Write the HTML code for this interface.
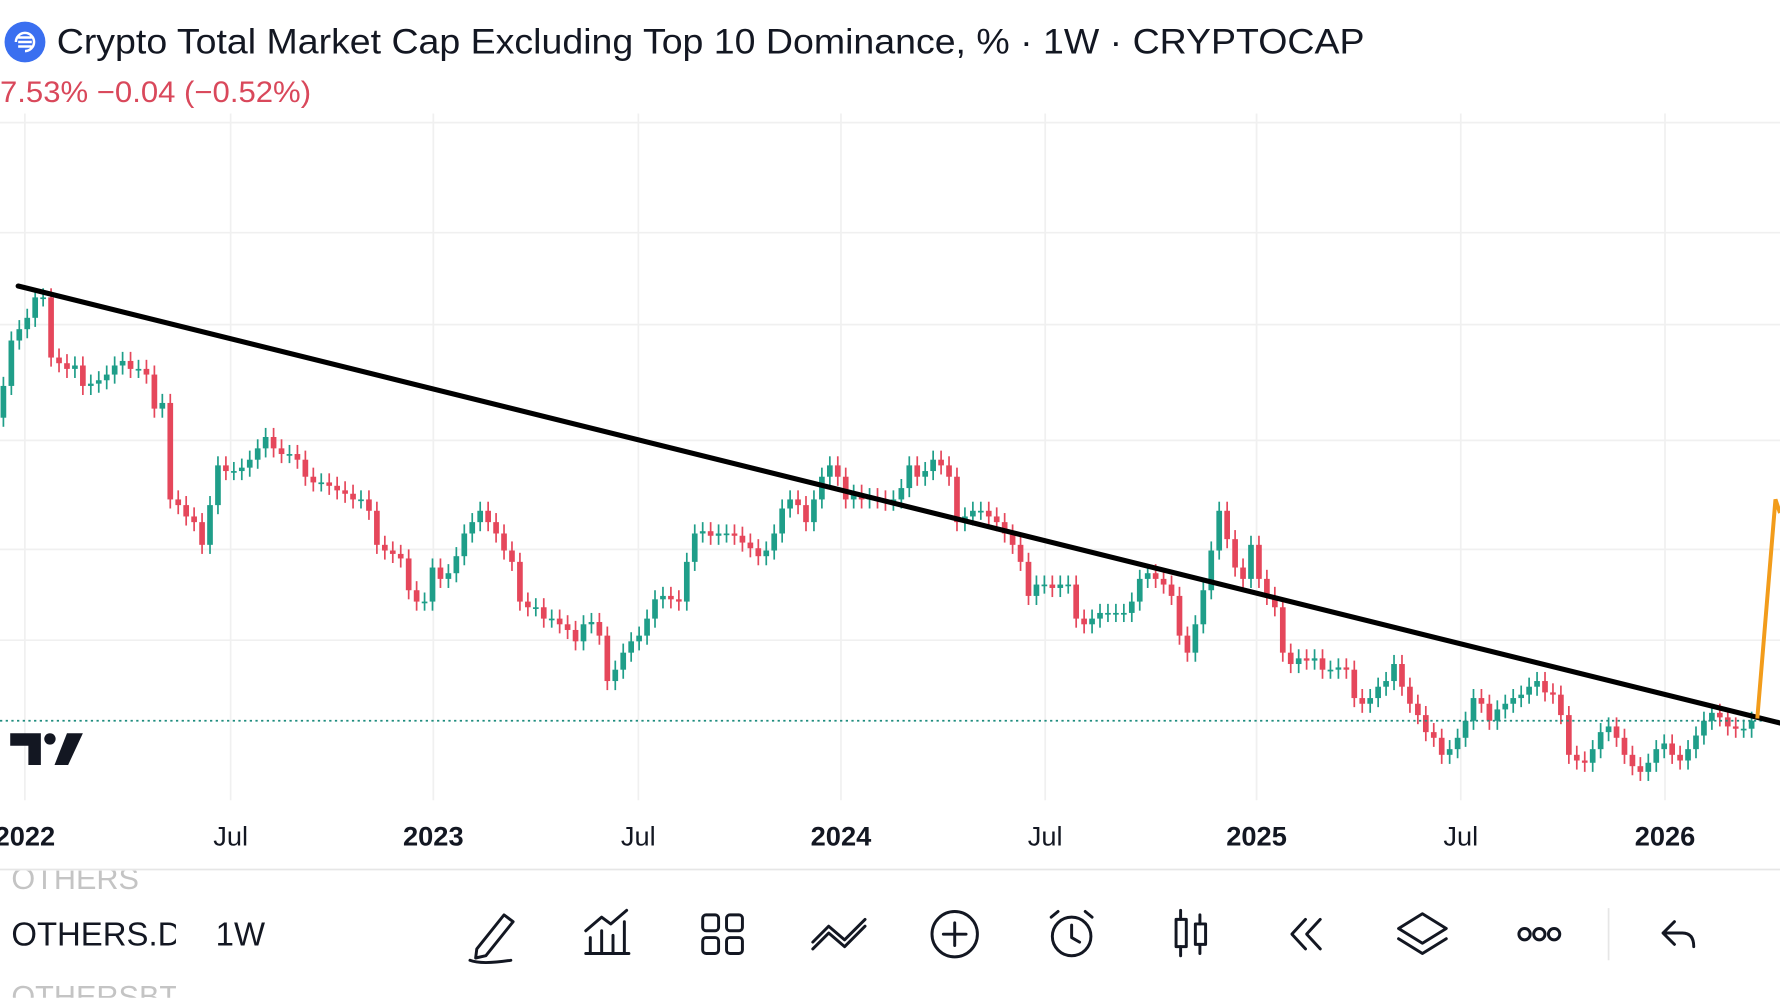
<!DOCTYPE html>
<html><head><meta charset="utf-8">
<style>
html,body{margin:0;padding:0;background:#fff;width:1780px;height:1000px;overflow:hidden}
svg{display:block}
text{font-family:"Liberation Sans",sans-serif}
</style></head>
<body>
<svg id="chart" width="1780" height="1000" viewBox="0 0 1568 881" preserveAspectRatio="none" xmlns="http://www.w3.org/2000/svg">
  <defs>
    <clipPath id="tbclip"><rect x="0" y="767" width="1568" height="112"/></clipPath>
    <clipPath id="symclip"><rect x="0" y="767" width="155" height="112"/></clipPath>
  </defs>
  <rect x="0" y="0" width="1568" height="881" fill="#ffffff"/>
  <g id="grid"></g>
  <g id="candles"></g>
  <line x1="0" y1="635" x2="1568" y2="635" stroke="#1e8c7e" stroke-width="1.5" stroke-dasharray="2,3"/>
  <line x1="16" y1="252" x2="1568" y2="637" stroke="#000" stroke-width="4.5" stroke-linecap="round"/>
  <polyline points="1548,633 1564,440 1568,452" fill="none" stroke="#f29c1b" stroke-width="3.5"/>
  <g>
    <path d="M9,646 H36 V674 H25 V657 H9 Z" fill="#131722"/>
    <circle cx="44" cy="651" r="5" fill="#131722"/>
    <path d="M59,646 H73 L60,674 H48 Z" fill="#131722"/>
  </g>
  <g>
    <circle cx="22" cy="37" r="18" fill="#3a6ff0"/>
    <path d="M14,37 a8,8 0 1,1 8,8 M16,33 h12 M16,37 h12 M16,41 h12" stroke="#fff" stroke-width="2.2" fill="none"/>
    <text x="50" y="47" font-size="31" fill="#131722" textLength="1152" lengthAdjust="spacingAndGlyphs">Crypto Total Market Cap Excluding Top 10 Dominance, % · 1W · CRYPTOCAP</text>
    <text x="0" y="90" font-size="26" fill="#d9485b" textLength="274" lengthAdjust="spacingAndGlyphs">7.53%  −0.04 (−0.52%)</text>
  </g>
  <g id="xaxis"></g>
  <line x1="0" y1="766" x2="1568" y2="766" stroke="#e6e6e6" stroke-width="1.5"/>
  <g>
    <g clip-path="url(#symclip)">
      <text x="10" y="783" font-size="27" fill="#c4c4c4">OTHERS</text>
      <text x="10" y="833" font-size="29" fill="#131722">OTHERS.D</text>
      <text x="10" y="887" font-size="27" fill="#c4c4c4">OTHERSBTC</text>
    </g>
    <text x="190" y="833" font-size="29" fill="#131722">1W</text>
    <g fill="none" stroke="#131722" stroke-width="2.6" stroke-linecap="round" stroke-linejoin="round">
      <g><path d="M420,836 L444,806 L452,812 L428,842 L419,844 Z M414,846 q10,4 36,0"/></g>
      <g><path d="M516,840 H554 M520,840 V826 M530,840 V820 M540,840 V824 M550,840 V812 M516,820 L530,808 L538,814 L552,802"/></g>
      <g><rect x="619" y="806" width="14" height="14" rx="3"/><rect x="640" y="806" width="14" height="14" rx="3"/><rect x="619" y="826" width="14" height="14" rx="3"/><rect x="640" y="826" width="14" height="14" rx="3"/></g>
      <g><path d="M716,830 L730,816 L744,828 L762,810 M716,836 L730,822 L744,834 L762,816"/></g>
      <g><circle cx="841" cy="823" r="20"/><path d="M841,813 V833 M831,823 H851"/></g>
      <g><circle cx="944" cy="825" r="17"/><path d="M944,815 V826 L951,830 M926,808 L932,803 M962,808 L956,803"/></g>
      <g><rect x="1036" y="810" width="9" height="24"/><rect x="1053" y="814" width="9" height="18"/><path d="M1040,802 V810 M1040,834 V842 M1057,806 V814 M1057,832 V840"/></g>
      <g><path d="M1150,810 L1138,823 L1150,836 M1163,810 L1151,823 L1163,836"/></g>
      <g><path d="M1253,805 L1274,818 L1253,831 L1232,818 Z M1232,827 L1253,840 L1274,827"/></g>
      <g><circle cx="1343" cy="823" r="5"/><circle cx="1356" cy="823" r="5"/><circle cx="1369" cy="823" r="5"/></g>
      <g><path d="M1475,812 L1465,822 L1475,832 M1465,822 H1482 q10,0 10,12"/></g>
    </g>
    <line x1="1417" y1="800" x2="1417" y2="846" stroke="#e6e6e6" stroke-width="1.5"/>
  </g>
</svg>
<script>
const closes = [10.48,10.88,10.98,11.08,11.26,11.26,10.73,10.68,10.63,10.66,10.48,10.50,10.53,10.58,10.66,10.70,10.63,10.63,10.58,10.28,10.33,9.48,9.43,9.33,9.28,9.08,9.43,9.78,9.73,9.73,9.76,9.83,9.93,10.03,9.93,9.88,9.88,9.83,9.68,9.63,9.63,9.60,9.56,9.53,9.48,9.48,9.38,9.08,9.03,9.00,8.96,8.68,8.58,8.58,8.88,8.78,8.83,8.98,9.18,9.28,9.38,9.28,9.18,9.03,8.93,8.58,8.53,8.53,8.43,8.43,8.38,8.33,8.23,8.38,8.40,8.28,7.88,7.98,8.13,8.23,8.28,8.43,8.60,8.63,8.60,8.58,8.93,9.18,9.20,9.16,9.18,9.18,9.16,9.10,9.05,8.98,9.03,9.18,9.40,9.48,9.43,9.28,9.48,9.68,9.78,9.68,9.48,9.53,9.48,9.50,9.48,9.46,9.48,9.58,9.78,9.68,9.73,9.83,9.78,9.68,9.28,9.33,9.38,9.38,9.33,9.28,9.18,9.08,8.93,8.63,8.73,8.73,8.70,8.73,8.73,8.43,8.38,8.43,8.48,8.48,8.48,8.48,8.58,8.78,8.83,8.78,8.73,8.63,8.28,8.13,8.38,8.68,9.03,9.38,9.13,8.88,8.78,9.08,8.78,8.63,8.53,8.13,8.03,8.08,8.06,8.08,7.98,7.98,8.00,7.98,7.73,7.68,7.73,7.83,7.88,8.03,7.83,7.68,7.58,7.43,7.38,7.23,7.28,7.38,7.53,7.73,7.68,7.53,7.63,7.68,7.73,7.76,7.83,7.88,7.78,7.76,7.58,7.23,7.18,7.16,7.28,7.43,7.48,7.38,7.23,7.13,7.08,7.16,7.28,7.33,7.23,7.18,7.28,7.40,7.53,7.60,7.56,7.48,7.46,7.46,7.53];
const firstOpen = 10.2;
const tickLabels = ["2022","Jul","2023","Jul","2024","Jul","2025","Jul","2026"];
const tickWeeks = [2.7,28.6,54.1,79.9,105.4,131.1,157.7,183.4,209.1];
const tickBold = [true,false,true,false,true,false,true,false,true];
const gridValues = [12.8,11.83,11.02,10.0,9.04,8.24];

const NS = "http://www.w3.org/2000/svg";
function xScale(i){ return 3 + i*7; }
function yScale(v){ return 1388 - v*100; }

const grid = document.getElementById('grid');
gridValues.forEach(v=>{
  const l = document.createElementNS(NS,'line');
  
  
  l.setAttribute('x1',0); l.setAttribute('x2',1568);
  l.setAttribute('y1',yScale(v)); l.setAttribute('y2',yScale(v));
  l.setAttribute('stroke','#f0f0f0'); l.setAttribute('stroke-width','1.5');
  grid.appendChild(l);
});
const xa = document.getElementById('xaxis');
tickWeeks.forEach((w,k)=>{
  const x = xScale(w);
  const l = document.createElementNS(NS,'line');
  
  
  l.setAttribute('x1',x); l.setAttribute('x2',x);
  l.setAttribute('y1',100); l.setAttribute('y2',705);
  l.setAttribute('stroke','#f0f0f0'); l.setAttribute('stroke-width','1.5');
  grid.appendChild(l);
  const t = document.createElementNS(NS,'text');
  
  
  t.setAttribute('x',x); t.setAttribute('y',745);
  t.setAttribute('text-anchor','middle');
  t.setAttribute('font-size','24');
  t.setAttribute('fill','#131722');
  if(tickBold[k]) t.setAttribute('font-weight','bold');
  t.textContent = tickLabels[k];
  xa.appendChild(t);
});
const cg = document.getElementById('candles');
let prev = firstOpen;
closes.forEach((c,i)=>{
  const o = prev; prev = c;
  const up = c >= o;
  const col = up ? '#1f9e89' : '#e5475b';
  const x = xScale(i);
  const hi = Math.max(o,c)+0.08, lo = Math.min(o,c)-0.08;
  const w = document.createElementNS(NS,'line');
  
  
  w.setAttribute('x1',x); w.setAttribute('x2',x);
  w.setAttribute('y1',yScale(hi)); w.setAttribute('y2',yScale(lo));
  w.setAttribute('stroke',col); w.setAttribute('stroke-width','1.5');
  cg.appendChild(w);
  const r = document.createElementNS(NS,'rect');
  
  
  const top = yScale(Math.max(o,c));
  r.setAttribute('x',x-2.5); r.setAttribute('width',5);
  r.setAttribute('y',top); r.setAttribute('height',Math.max(1.5,yScale(Math.min(o,c))-top));
  r.setAttribute('fill',col);
  cg.appendChild(r);
});
</script>
</body></html>
